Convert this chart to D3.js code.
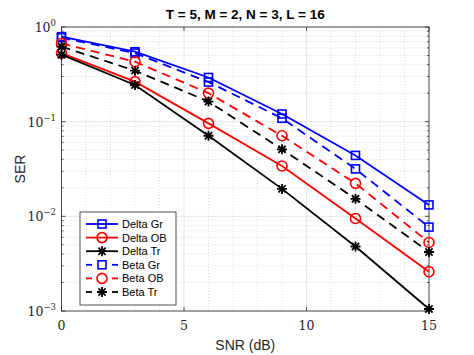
<!DOCTYPE html>
<html><head><meta charset="utf-8">
<script src="https://cdn.jsdelivr.net/npm/d3@7"></script>
<style>body{margin:0;background:#fff}svg{display:block}</style>
</head><body>
<svg id="c" width="474" height="355"></svg>
<script>
const snr = [0, 3, 6, 9, 12, 15];
const deltaGr = [0.79, 0.548, 0.293, 0.1205, 0.044, 0.0132];
const deltaOB = [0.53, 0.265, 0.096, 0.034, 0.0095, 0.0026];
const deltaTr = [0.51, 0.244, 0.071, 0.0195, 0.0048, 0.00105];
const betaGr = [0.77, 0.53, 0.262, 0.1086, 0.0317, 0.0077];
const betaOB = [0.67, 0.43, 0.20, 0.071, 0.0223, 0.0053];
const betaTr = [0.62, 0.346, 0.163, 0.051, 0.0153, 0.0042];
const xTicks = [0, 5, 10, 15];
const yTickExps = [0, -1, -2, -3];
const seriesNames = ["Delta Gr", "Delta OB", "Delta Tr", "Beta Gr", "Beta OB", "Beta Tr"];
const titleText = "T = 5, M = 2, N = 3, L = 16";

const series = [
  {name: seriesNames[0], vals: deltaGr, color: "#0000ff", marker: "square", dash: null},
  {name: seriesNames[1], vals: deltaOB, color: "#ff0000", marker: "circle", dash: null},
  {name: seriesNames[2], vals: deltaTr, color: "#000000", marker: "star", dash: null},
  {name: seriesNames[3], vals: betaGr, color: "#0000ff", marker: "square", dash: "9,6"},
  {name: seriesNames[4], vals: betaOB, color: "#ff0000", marker: "circle", dash: "9,6"},
  {name: seriesNames[5], vals: betaTr, color: "#000000", marker: "star", dash: "9,6"}
];

const L = 61.5, R = 429, T = 27, B = 311;
const svg = d3.select("#c");
const x = d3.scaleLinear().domain([0, 15]).range([L, R]);
const y = d3.scaleLog().domain([1e-3, 1]).range([B, T]);

// minor grid
const g = svg.append("g");
const minorX = d3.range(0, 16).filter(v => v % 5 !== 0);
g.selectAll(".mx").data(minorX).enter().append("line")
  .attr("x1", d => x(d)).attr("x2", d => x(d)).attr("y1", T).attr("y2", B)
  .attr("stroke", "#cfcfcf").attr("stroke-width", 0.7).attr("stroke-dasharray", "1,2");
const minorY = [];
[-3, -2, -1].forEach(e => { for (let k = 2; k <= 9; k++) minorY.push(k * Math.pow(10, e)); });
g.selectAll(".my").data(minorY).enter().append("line")
  .attr("x1", L).attr("x2", R).attr("y1", d => y(d)).attr("y2", d => y(d))
  .attr("stroke", "#cfcfcf").attr("stroke-width", 0.7).attr("stroke-dasharray", "1,2");
// major grid
g.selectAll(".Mx").data(xTicks).enter().append("line")
  .attr("x1", d => x(d)).attr("x2", d => x(d)).attr("y1", T).attr("y2", B)
  .attr("stroke", "#dcdcdc").attr("stroke-width", 0.7);
g.selectAll(".My").data(yTickExps).enter().append("line")
  .attr("x1", L).attr("x2", R).attr("y1", d => y(Math.pow(10, d))).attr("y2", d => y(Math.pow(10, d)))
  .attr("stroke", "#dcdcdc").attr("stroke-width", 0.7);

// axes box and ticks
const ax = svg.append("g");
ax.append("rect").attr("x", L).attr("y", T).attr("width", R - L).attr("height", B - T)
  .attr("fill", "none").attr("stroke", "#262626").attr("stroke-width", 0.8);
xTicks.forEach(v => {
  ax.append("line").attr("x1", x(v)).attr("x2", x(v)).attr("y1", B).attr("y2", B - 4).attr("stroke", "#262626").attr("stroke-width", 0.8);
  ax.append("line").attr("x1", x(v)).attr("x2", x(v)).attr("y1", T).attr("y2", T + 4).attr("stroke", "#262626").attr("stroke-width", 0.8);
});
yTickExps.forEach(e => {
  const yy = y(Math.pow(10, e));
  ax.append("line").attr("x1", L).attr("x2", L + 4).attr("y1", yy).attr("y2", yy).attr("stroke", "#262626").attr("stroke-width", 0.8);
  ax.append("line").attr("x1", R).attr("x2", R - 4).attr("y1", yy).attr("y2", yy).attr("stroke", "#262626").attr("stroke-width", 0.8);
});
minorY.forEach(v => {
  const yy = y(v);
  ax.append("line").attr("x1", L).attr("x2", L + 2.2).attr("y1", yy).attr("y2", yy).attr("stroke", "#262626").attr("stroke-width", 0.7);
  ax.append("line").attr("x1", R).attr("x2", R - 2.2).attr("y1", yy).attr("y2", yy).attr("stroke", "#262626").attr("stroke-width", 0.7);
});

// tick labels
const serif = "'DejaVu Serif', 'Liberation Serif', serif";
ax.selectAll(".xl").data(xTicks).enter().append("text")
  .attr("x", d => x(d)).attr("y", 330).attr("text-anchor", "middle")
  .attr("font-family", serif).attr("font-size", 12.5).attr("fill", "#262626").text(d => d);
yTickExps.forEach(e => {
  const yy = y(Math.pow(10, e));
  const t = ax.append("text").attr("x", 56).attr("y", yy + 5).attr("text-anchor", "end")
    .attr("font-family", serif).attr("fill", "#262626");
  t.append("tspan").attr("font-size", 12.5).text("10");
  t.append("tspan").attr("font-size", 8.5).attr("dy", -6).text(e === 0 ? "0" : "\u2212" + (-e));
});

// axis titles
const sans = "'Liberation Sans', Arial, Helvetica, sans-serif";
svg.append("text").attr("x", x(7.5)).attr("y", 350).attr("text-anchor", "middle")
  .attr("font-family", sans).attr("font-size", 14).attr("fill", "#262626").text("SNR (dB)");
svg.append("text").attr("transform", `translate(25,${(T + B) / 2}) rotate(-90)`).attr("text-anchor", "middle")
  .attr("font-family", sans).attr("font-size", 14).attr("fill", "#262626").text("SER");
svg.append("text").attr("x", x(7.5)).attr("y", 19).attr("text-anchor", "middle")
  .attr("font-family", sans).attr("font-size", 13.5).attr("font-weight", "bold").attr("fill", "#000").text(titleText);

// markers
function drawMarker(sel, type, color, cx, cy) {
  if (type === "square") {
    sel.append("rect").attr("x", cx - 4).attr("y", cy - 4).attr("width", 8).attr("height", 8)
      .attr("fill", "none").attr("stroke", color).attr("stroke-width", 1.6);
  } else if (type === "circle") {
    sel.append("circle").attr("cx", cx).attr("cy", cy).attr("r", 5)
      .attr("fill", "none").attr("stroke", color).attr("stroke-width", 1.6);
  } else {
    const r = 5, d = 3.6;
    sel.append("path").attr("d",
      `M${cx - r},${cy}L${cx + r},${cy}M${cx},${cy - r}L${cx},${cy + r}` +
      `M${cx - d},${cy - d}L${cx + d},${cy + d}M${cx - d},${cy + d}L${cx + d},${cy - d}`)
      .attr("stroke", color).attr("stroke-width", 1.8).attr("fill", "none");
  }
}

const line = d3.line().x((d, i) => x(snr[i])).y(d => y(d));
const plot = svg.append("g");
series.forEach(s => {
  plot.append("path").attr("d", line(s.vals)).attr("fill", "none")
    .attr("stroke", s.color).attr("stroke-width", 1.8)
    .attr("stroke-dasharray", s.dash);
  const mg = plot.append("g");
  s.vals.forEach((v, i) => drawMarker(mg, s.marker, s.color, x(snr[i]), y(v)));
});

// legend
const lg = svg.append("g");
const lx = 80, ly = 212, lw = 96, lh = 93;
lg.append("rect").attr("x", lx).attr("y", ly).attr("width", lw).attr("height", lh)
  .attr("fill", "#fff").attr("stroke", "#262626").attr("stroke-width", 0.8);
series.forEach((s, i) => {
  const yy = ly + 12 + i * 13.6;
  if (s.dash) {
    lg.append("line").attr("x1", lx + 6).attr("x2", lx + 12).attr("y1", yy).attr("y2", yy)
      .attr("stroke", s.color).attr("stroke-width", 1.8);
    lg.append("line").attr("x1", lx + 32).attr("x2", lx + 38).attr("y1", yy).attr("y2", yy)
      .attr("stroke", s.color).attr("stroke-width", 1.8);
  } else {
    lg.append("line").attr("x1", lx + 6).attr("x2", lx + 38).attr("y1", yy).attr("y2", yy)
      .attr("stroke", s.color).attr("stroke-width", 1.8);
  }
  drawMarker(lg, s.marker, s.color, lx + 22, yy);
  lg.append("text").attr("x", lx + 42).attr("y", yy + 4).attr("font-family", sans)
    .attr("font-size", 11).attr("fill", "#000").text(s.name);
});
</script>
</body></html>
